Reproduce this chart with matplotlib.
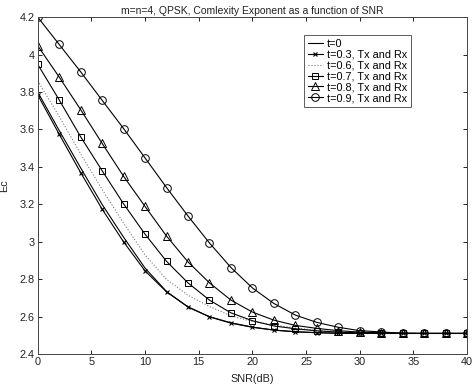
import matplotlib
matplotlib.use("Agg")
from matplotlib import pyplot as plt

plt.rcParams['font.family'] = ['Liberation Sans', 'DejaVu Sans']

# SNR values (dB)
snr = [0, 2, 4, 6, 8, 10, 12, 14, 16, 18, 20, 22, 24, 26, 28, 30, 32, 34, 36, 38, 40]

# complexity exponent Ec for each t
ec_t0 = [3.80, 3.595, 3.395, 3.20, 3.025, 2.86, 2.735, 2.652, 2.600, 2.566, 2.544,
         2.529, 2.520, 2.515, 2.512, 2.511, 2.511, 2.511, 2.511, 2.511, 2.511]
ec_t03 = [3.785, 3.575, 3.37, 3.175, 3.000, 2.845, 2.733, 2.653, 2.600, 2.568, 2.545,
          2.529, 2.520, 2.515, 2.512, 2.511, 2.511, 2.511, 2.511, 2.511, 2.511]
ec_t06 = [3.86, 3.67, 3.47, 3.28, 3.10, 2.93, 2.80, 2.715, 2.655, 2.605, 2.575,
          2.556, 2.540, 2.528, 2.520, 2.515, 2.512, 2.511, 2.511, 2.511, 2.511]
ec_t07 = [3.948, 3.758, 3.561, 3.380, 3.203, 3.041, 2.896, 2.781, 2.689, 2.621, 2.579,
          2.551, 2.536, 2.525, 2.518, 2.514, 2.512, 2.511, 2.511, 2.511, 2.511]
ec_t08 = [4.047, 3.880, 3.706, 3.526, 3.350, 3.189, 3.031, 2.893, 2.781, 2.689, 2.625,
          2.582, 2.554, 2.538, 2.526, 2.518, 2.514, 2.512, 2.511, 2.511, 2.511]
ec_t09 = [4.200, 4.054, 3.908, 3.756, 3.605, 3.448, 3.290, 3.138, 2.994, 2.863, 2.754,
          2.671, 2.609, 2.570, 2.544, 2.526, 2.519, 2.512, 2.511, 2.511, 2.511]

labels = ['t=0', 't=0.3, Tx and Rx', 't=0.6, Tx and Rx',
          't=0.7, Tx and Rx', 't=0.8, Tx and Rx', 't=0.9, Tx and Rx']

fig = plt.figure(figsize=(4.74, 3.88), dpi=100)
ax = fig.add_axes([0.0795, 0.087, 0.906, 0.869])

lw = 0.8
ms = 5.5
ax.plot(snr, ec_t0, '-', color='k', linewidth=lw, label=labels[0])
ax.plot(snr, ec_t03, '-x', color='k', linewidth=lw, markersize=3.5,
        markeredgewidth=0.8, label=labels[1])
ax.plot(snr, ec_t06, ':', color='#777777', linewidth=lw, label=labels[2])
ax.plot(snr, ec_t07, '-s', color='k', linewidth=lw, markersize=ms - 0.8,
        markerfacecolor='none', markeredgewidth=0.7, label=labels[3])
ax.plot(snr, ec_t08, '-^', color='k', linewidth=lw, markersize=ms,
        markerfacecolor='none', markeredgewidth=0.7, label=labels[4])
ax.plot(snr, ec_t09, '-o', color='k', linewidth=lw, markersize=ms,
        markerfacecolor='none', markeredgewidth=0.7, label=labels[5])

ax.set_xlim(0, 40)
ax.set_ylim(2.4, 4.2)
ax.set_xticks([0, 5, 10, 15, 20, 25, 30, 35, 40])
yt = [2.4, 2.6, 2.8, 3.0, 3.2, 3.4, 3.6, 3.8, 4.0, 4.2]
ax.set_yticks(yt)
ax.set_yticklabels(['%g' % v for v in yt])
ax.tick_params(direction='in', top=True, right=True, labelsize=7.8,
               length=3, width=0.6, pad=2, labelcolor='#222222')
for s in ax.spines.values():
    s.set_linewidth(0.7)
    s.set_color('#444444')

ax.set_title('m=n=4, QPSK, Comlexity Exponent as a function of SNR',
             fontsize=7.5, pad=2, color='#222222')
ax.set_xlabel('SNR(dB)', fontsize=7.8, labelpad=5, color='#222222')
ax.set_ylabel('Ec', fontsize=7.8, color='#222222')
ax.yaxis.set_label_coords(-0.066, 0.5)

leg = ax.legend(loc='upper left', bbox_to_anchor=(0.62, 0.947), fontsize=7.8,
                frameon=True, fancybox=False, edgecolor='#333333',
                handlelength=1.4, handletextpad=0.4, borderpad=0.35,
                labelspacing=0.08, borderaxespad=0)
leg.get_frame().set_linewidth(0.7)

fig.savefig('out.png', dpi=100)
